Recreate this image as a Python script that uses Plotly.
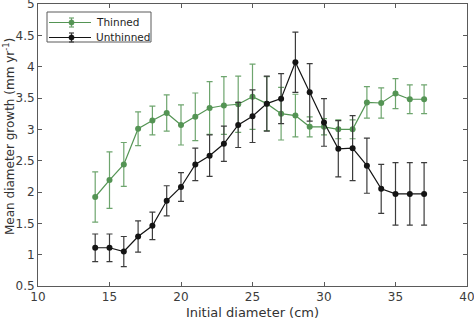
import plotly.graph_objects as go

# Initial diameter classes (cm)
diam = list(range(14, 38))

# Thinned stands: mean diameter growth (mm/yr) and standard error
thinned = [1.92, 2.19, 2.44, 3.01, 3.14, 3.26, 3.07, 3.20, 3.34, 3.38, 3.40, 3.52,
           3.41, 3.25, 3.22, 3.04, 3.04, 3.00, 3.00, 3.43, 3.42, 3.57, 3.48, 3.48]
thinned_err = [0.40, 0.45, 0.35, 0.27, 0.23, 0.29, 0.32, 0.38, 0.42, 0.46, 0.45, 0.52,
               0.43, 0.42, 0.34, 0.16, 0.13, 0.15, 0.15, 0.25, 0.24, 0.24, 0.23, 0.23]

# Unthinned stands
unthinned = [1.11, 1.11, 1.05, 1.29, 1.46, 1.86, 2.08, 2.44, 2.58, 2.77, 3.07, 3.21,
             3.41, 3.49, 4.07, 3.59, 3.11, 2.69, 2.70, 2.42, 2.05, 1.97, 1.97, 1.97]
unthinned_err = [0.22, 0.22, 0.24, 0.25, 0.22, 0.24, 0.23, 0.26, 0.33, 0.28, 0.36, 0.42,
                 0.44, 0.40, 0.48, 0.46, 0.38, 0.45, 0.52, 0.44, 0.39, 0.50, 0.50, 0.50]

series_names = ["Thinned", "Unthinned"]

x_ticks = [10, 15, 20, 25, 30, 35, 40]
y_ticks = [0.5, 1, 1.5, 2, 2.5, 3, 3.5, 4, 4.5, 5]
y_labels = ["0.5", "1", "1.5", "2", "2.5", "3", "3.5", "4", "4.5", "5"]

green = "rgb(84,148,84)"
green_err = "rgb(110,165,110)"
black = "rgb(20,20,20)"
black_err = "rgb(60,60,60)"

W, H = 474, 322
ML, MR, MT, MB = 38, 7, 4, 36
PW, PH = W - ML - MR, H - MT - MB


def px(xp):
    """Page x pixel -> paper fraction."""
    return (xp - ML) / PW


def py(yp):
    """Page y pixel -> paper fraction."""
    return (H - MB - yp) / PH


fig = go.Figure()
for name, vals, errs, col, ecol in [
    (series_names[0], thinned, thinned_err, green, green_err),
    (series_names[1], unthinned, unthinned_err, black, black_err),
]:
    fig.add_trace(go.Scatter(
        x=diam, y=vals, name=name, mode="lines+markers", showlegend=False,
        line=dict(color=col, width=1.2),
        marker=dict(color=col, size=6),
        error_y=dict(type="data", array=errs, color=ecol, thickness=1.2, width=3),
    ))

axis_font = dict(family="DejaVu Sans", size=12, color="rgb(60,60,60)")
fig.update_xaxes(
    range=[10, 40], tickvals=x_ticks, automargin=False,
    ticks="inside", ticklen=4, tickcolor="rgb(90,90,90)",
    showline=True, linecolor="rgb(90,90,90)", linewidth=1, mirror="ticks",
    showgrid=False, zeroline=False, tickfont=axis_font, ticklabeloverflow="allow",
    title=dict(text="Initial diameter (cm)", font=dict(family="DejaVu Sans", size=13, color="rgb(50,50,50)"), standoff=4),
)
fig.update_yaxes(
    range=[0.5, 5], tickvals=y_ticks, ticktext=y_labels, automargin=False,
    ticks="inside", ticklen=4, tickcolor="rgb(90,90,90)",
    showline=True, linecolor="rgb(90,90,90)", linewidth=1, mirror="ticks",
    showgrid=False, zeroline=False, tickfont=axis_font, ticklabeloverflow="allow",
)

fig.add_annotation(
    text="Mean diameter growth (mm yr<sup>-1</sup>)", textangle=-90,
    xref="paper", yref="paper", x=px(9), y=py(137), xanchor="center", yanchor="middle",
    showarrow=False, font=dict(family="DejaVu Sans", size=12, color="rgb(50,50,50)"),
)

# Compact legend box with line, marker and error-bar glyph per series
shapes = [dict(type="rect", xref="paper", yref="paper",
               x0=px(47), x1=px(151), y0=py(42), y1=py(12),
               line=dict(color="rgb(90,90,90)", width=1), fillcolor="white", layer="above")]
for i, (name, col, ecol) in enumerate([(series_names[0], green, green_err),
                                       (series_names[1], black, black_err)]):
    yc = 22.5 + 15 * i
    shapes.append(dict(type="line", xref="paper", yref="paper", layer="above",
                       x0=px(49), x1=px(91), y0=py(yc), y1=py(yc),
                       line=dict(color=col, width=1.2)))
    shapes.append(dict(type="line", xref="paper", yref="paper", layer="above",
                       x0=px(71.5), x1=px(71.5), y0=py(yc - 4.5), y1=py(yc + 4.5),
                       line=dict(color=ecol, width=1.2)))
    for dy in (-4.5, 4.5):
        shapes.append(dict(type="line", xref="paper", yref="paper", layer="above",
                           x0=px(69), x1=px(74), y0=py(yc + dy), y1=py(yc + dy),
                           line=dict(color=ecol, width=1.2)))
    shapes.append(dict(type="circle", xref="paper", yref="paper", layer="above",
                       x0=px(69), x1=px(74), y0=py(yc + 2.5), y1=py(yc - 2.5),
                       line=dict(color=col, width=1), fillcolor=col))
    fig.add_annotation(text=name, xref="paper", yref="paper", x=px(95), y=py(yc),
                       xanchor="left", yanchor="middle", showarrow=False, borderpad=0,
                       font=dict(family="DejaVu Sans", size=10.5, color="rgb(30,30,30)"))

fig.update_layout(
    width=W, height=H,
    margin=dict(l=ML, r=MR, t=MT, b=MB),
    paper_bgcolor="white", plot_bgcolor="white",
    shapes=shapes,
)

fig.write_html("out.html")
